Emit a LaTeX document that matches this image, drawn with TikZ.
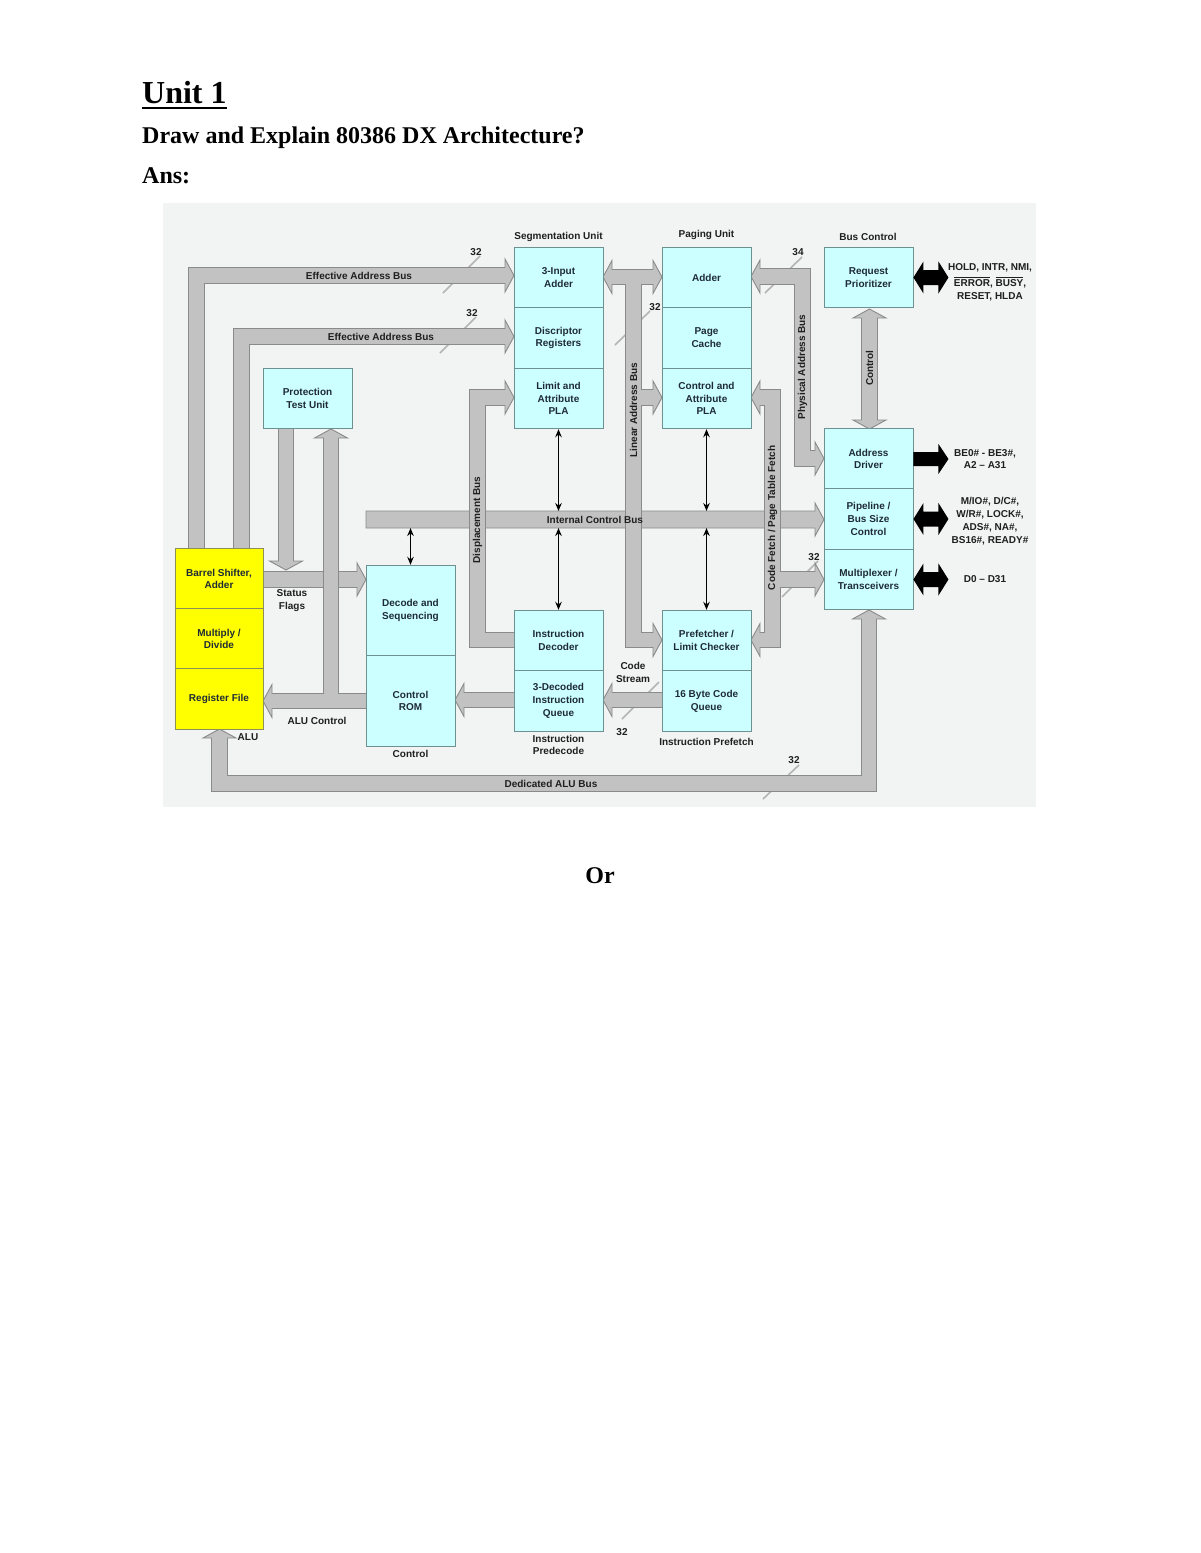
\documentclass[tikz,border=0pt]{standalone}
\usepackage{fontspec}
\setmainfont{Liberation Serif}
\newfontfamily\blockfont{Liberation Sans}
\usetikzlibrary{arrows.meta,calc}

\definecolor{panelbg}{HTML}{F1F4F2}
\definecolor{cellfill}{HTML}{CCFFFF}
\definecolor{celledge}{HTML}{6F9090}
\definecolor{alufill}{HTML}{FFFF00}
\definecolor{aluedge}{HTML}{8E8E55}
\definecolor{busfill}{HTML}{C2C2C2}
\definecolor{busedge}{HTML}{8A8A8A}
\definecolor{widthmark}{HTML}{B4B4B4}
\definecolor{celltext}{HTML}{1E2B36}

\newcommand\barred[1]{\vbox{\hrule height 1.3pt\kern 1.2pt\hbox{#1}}}

\tikzset{%
  blockcell/.style = {shape=rectangle, draw=celledge, fill=cellfill, line width=0.9pt,%
                      minimum width=89pt, minimum height=60.5pt, inner sep=0pt,%
                      align=center, text=celltext,%
                      font=\blockfont\bfseries\fontsize{10}{12.8}\selectfont},%
  tallcell/.style  = {blockcell, minimum height=90.5pt},%
  alucell/.style   = {blockcell, draw=aluedge, fill=alufill, minimum width=88pt},%
  plainlbl/.style  = {inner sep=0pt, align=center, text=black!88,%
                      font=\blockfont\bfseries\fontsize{10}{12.8}\selectfont},%
  busout/.style    = {draw=busedge, line width=16.5pt, line join=miter},%
  busin/.style     = {draw=busfill, line width=14.5pt, line join=miter},%
  ctrllink/.style  = {{Stealth[length=8pt,width=6.5pt]}-{Stealth[length=8pt,width=6.5pt]}, line width=1.4pt},%
  bushead/.pic     = {\filldraw[fill=busfill, draw=busedge, line width=0.9pt]
                      (0,0) -- (-9,16.5) -- (-9,-16.5) -- cycle;},%
  blkboth/.pic     = {\fill[black] (-17.5,0) -- (-7.5,-16) -- (-7.5,-7.5) -- (7.5,-7.5)
                      -- (7.5,-16) -- (17.5,0) -- (7.5,16) -- (7.5,7.5) -- (-7.5,7.5)
                      -- (-7.5,16) -- cycle;},%
  blkright/.pic    = {\fill[black] (0,0) -- (-10,-15) -- (-10,-7) -- (-35,-7) -- (-35,7)
                      -- (-10,7) -- (-10,15) -- cycle;}%
}

% the bent buses, drawn once as edge and once as fill
\newcommand\busroutes[1]{%
  \draw[#1] (196.5,549) -- (196.5,275.5) -- (507,275.5);            % effective address bus
  \draw[#1] (241.5,549) -- (241.5,336.5) -- (507,336.5);            % effective address bus
  \draw[#1] (286,429) -- (286,563);                                 % protection -> flags
  \draw[#1] (366,701) -- (270,701);                                 % alu control
  \draw[#1] (331,701) -- (331,436);                                 % -> protection
  \draw[#1] (514,700) -- (462,700);                                 % queue -> control rom
  \draw[#1] (662,700) -- (610,700);                                 % code stream
  \draw[#1] (869,617) -- (869,783.5) -- (219.5,783.5) -- (219.5,736); % dedicated alu bus
  \draw[#1] (514,640) -- (477.5,640) -- (477.5,397.5) -- (507,397.5); % displacement bus
  \draw[#1] (610,277) -- (655,277);                                 % linear address bus
  \draw[#1] (633.5,277) -- (633.5,640) -- (655,640);
  \draw[#1] (633.5,397.5) -- (655,397.5);
  \draw[#1] (758,276.5) -- (802.5,276.5) -- (802.5,458.5) -- (817,458.5); % physical address bus
  \draw[#1] (758,397.5) -- (772.5,397.5) -- (772.5,640) -- (758,640); % code fetch
  \draw[#1] (772.5,579.5) -- (817,579.5);
  \draw[#1] (869.5,316) -- (869.5,422);                             % control
}

\begin{document}
\begin{tikzpicture}[x=1pt,y=-1pt]
  \fill[white] (0,0) rectangle (1200,1553);
  \useasboundingbox (0,0) rectangle (1200,1553);

  % heading
  \node[anchor=base west, inner sep=0pt, font=\bfseries\fontsize{32}{38}\selectfont]
    (unittitle) at (142,103) {Unit 1};
  \draw[line width=2.6pt] ([yshift=-5pt]unittitle.base west) -- ([yshift=-5pt]unittitle.base east);
  \node[anchor=base west, inner sep=0pt, font=\bfseries\fontsize{24}{28}\selectfont]
    (question) at (142,143) {Draw and Explain 80386 DX Architecture?};
  \node[anchor=base west, inner sep=0pt, font=\bfseries\fontsize{24}{28}\selectfont]
    (anslbl) at (142,183) {Ans:};
  \node[anchor=base, inner sep=0pt, font=\bfseries\fontsize{24}{28}\selectfont]
    (orlbl) at (600,883) {Or};

  \fill[panelbg] (163,203) rectangle (1036,807);

  % bus width marks
  \foreach \ax/\ay/\bx/\by in {443/293/480/256, 440/353/476/317, 615/345/650/311,
      765/293/802/257, 782/597/818/561, 622/719/659/682, 763/799/799/765}
    \draw[widthmark, line width=1.6pt] (\ax,\ay) -- (\bx,\by);

  % internal control bus and status flags
  \filldraw[fill=busfill, draw=busedge, line width=0.9pt] (366,511) -- (815,511) -- (815,503)
    -- (824,519.5) -- (815,536) -- (815,528) -- (366,528) -- cycle;
  \coordinate (icbtop) at (0,511);
  \coordinate (icbbot) at (0,528);
  \draw[busout] (263,579.5) -- (359,579.5);
  \pic at (366,579.5) {bushead};
  \draw[busin] (263,579.5) -- (359,579.5);

  % the other buses
  \busroutes{busout}
  \foreach \tx/\ty/\ang in {514/275.5/0, 514/336.5/0, 286/570/-90, 263/701/180, 331/429/90,
      455/700/180, 603/700/180, 869/610/90, 219.5/729/90, 514/397.5/0, 603/277/180,
      662/277/0, 662/640/0, 662/397.5/0, 751/276.5/180, 824/458.5/0, 751/397.5/180,
      751/640/180, 824/579.5/0, 869.5/309/90, 869.5/429/-90}
    \pic[rotate=\ang] at (\tx,\ty) {bushead};
  \busroutes{busin}

  % segmentation unit
  \node[blockcell] (adder3)   at (558.5,277.5) {3-Input\\Adder};
  \node[blockcell] (descreg)  at (558.5,338)   {Discriptor\\Registers};
  \node[blockcell] (limitpla) at (558.5,398.5) {Limit and\\Attribute\\PLA};
  % paging unit
  \node[blockcell] (padder)   at (706.5,277.5) {Adder};
  \node[blockcell] (pcache)   at (706.5,338)   {Page\\Cache};
  \node[blockcell] (ctrlpla)  at (706.5,398.5) {Control and\\Attribute\\PLA};
  % bus control
  \node[blockcell] (reqprio)  at (868.5,277.5) {Request\\Prioritizer};
  \node[blockcell] (addrdrv)  at (868.5,459)   {Address\\Driver};
  \node[blockcell] (pipeline) at (868.5,519)   {Pipeline /\\Bus Size\\Control};
  \node[blockcell] (muxtrans) at (868.5,579.5) {Multiplexer /\\Transceivers};
  % protection, alu, control
  \node[blockcell] (protect)  at (307.5,398.5) {Protection\\Test Unit};
  \node[alucell]   (barrel)   at (219,579)     {Barrel Shifter,\\Adder};
  \node[alucell]   (muldiv)   at (219,639)     {Multiply /\\Divide};
  \node[alucell]   (regfile)  at (219,699)     {Register File};
  \node[tallcell]  (decseq)   at (410.5,610.5) {Decode and\\Sequencing};
  \node[tallcell]  (ctrlrom)  at (410.5,701)   {Control\\ROM};
  % predecode and prefetch
  \node[blockcell] (instdec)  at (558.5,640.5) {Instruction\\Decoder};
  \node[blockcell] (dqueue)   at (558.5,701)   {3-Decoded\\Instruction\\Queue};
  \node[blockcell] (prefetch) at (706.5,640.5) {Prefetcher /\\Limit Checker};
  \node[blockcell] (bytequeue) at (706.5,701)  {16 Byte Code\\Queue};

  % labels
  \node[plainlbl] (seglbl)    at (558.5,237)   {Segmentation Unit};
  \node[plainlbl] (paglbl)    at (706.5,235)   {Paging Unit};
  \node[plainlbl] (bctrllbl)  at (868,237)     {Bus Control};
  \node[plainlbl] (ea1lbl)    at (359,275.5)   {Effective Address Bus};
  \node[plainlbl] (ea2lbl)    at (381,336.5)   {Effective Address Bus};
  \node[plainlbl] (icblbl)    at (595,519.5)   {Internal Control Bus};
  \node[plainlbl] (alubuslbl) at (551,783.5)   {Dedicated ALU Bus};
  \node[plainlbl, rotate=90] (displbl)  at (477.5,520)  {Displacement Bus};
  \node[plainlbl, rotate=90] (linlbl)   at (633.5,410)  {Linear Address Bus};
  \node[plainlbl, rotate=90] (physlbl)  at (802.5,367)  {Physical Address Bus};
  \node[plainlbl, rotate=90] (fetchlbl) at (772.5,518)  {Code Fetch / Page Table Fetch};
  \node[plainlbl, rotate=90] (ctrlbus)  at (869.5,368)  {Control};
  \node[plainlbl] (flaglbl)   at (292,600.5)   {Status\\Flags};
  \node[plainlbl] (aluctrl)   at (317,721)     {ALU Control};
  \node[plainlbl] (alulbl)    at (248,737)     {ALU};
  \node[plainlbl] (ctrlgrp)   at (410.5,754)   {Control};
  \node[plainlbl] (predec)    at (558.5,745)   {Instruction\\Predecode};
  \node[plainlbl] (prefetlbl) at (706.5,742)   {Instruction Prefetch};
  \node[plainlbl] (streamlbl) at (633,672.5)   {Code\\Stream};
  \foreach \wx/\wy/\wv in {476/252/32, 472/313/32, 655/307/32, 798/252/34,
      814/557/32, 622/732/32, 794/760/32}
    \node[plainlbl] (w\wx) at (\wx,\wy) {\wv};

  % pins
  \node[plainlbl] (holdtxt) at (990,282) {HOLD, INTR, NMI,\\[3pt]\barred{ERROR}, \barred{BUSY},\\RESET, HLDA};
  \node[plainlbl] (betxt)   at (985,459)   {BE0\# - BE3\#,\\A2 – A31};
  \node[plainlbl] (cyctxt)  at (990,521)   {M/IO\#, D/C\#,\\W/R\#, LOCK\#,\\ADS\#, NA\#,\\BS16\#, READY\#};
  \node[plainlbl] (datatxt) at (985,579.5) {D0 – D31};
  \pic at ($(reqprio.east)+(17.5,0)$)  {blkboth};
  \pic at ($(addrdrv.east)+(35,0)$)    {blkright};
  \pic at ($(pipeline.east)+(17.5,0)$) {blkboth};
  \pic at ($(muxtrans.east)+(17.5,0)$) {blkboth};

  % internal control bus links
  \draw[ctrllink] (limitpla.south) -- (limitpla.south |- icbtop);
  \draw[ctrllink] (ctrlpla.south)  -- (ctrlpla.south |- icbtop);
  \draw[ctrllink] (instdec.north)  -- (instdec.north |- icbbot);
  \draw[ctrllink] (prefetch.north) -- (prefetch.north |- icbbot);
  \draw[ctrllink] (decseq.north)   -- (decseq.north |- icbbot);
\end{tikzpicture}
\end{document}
